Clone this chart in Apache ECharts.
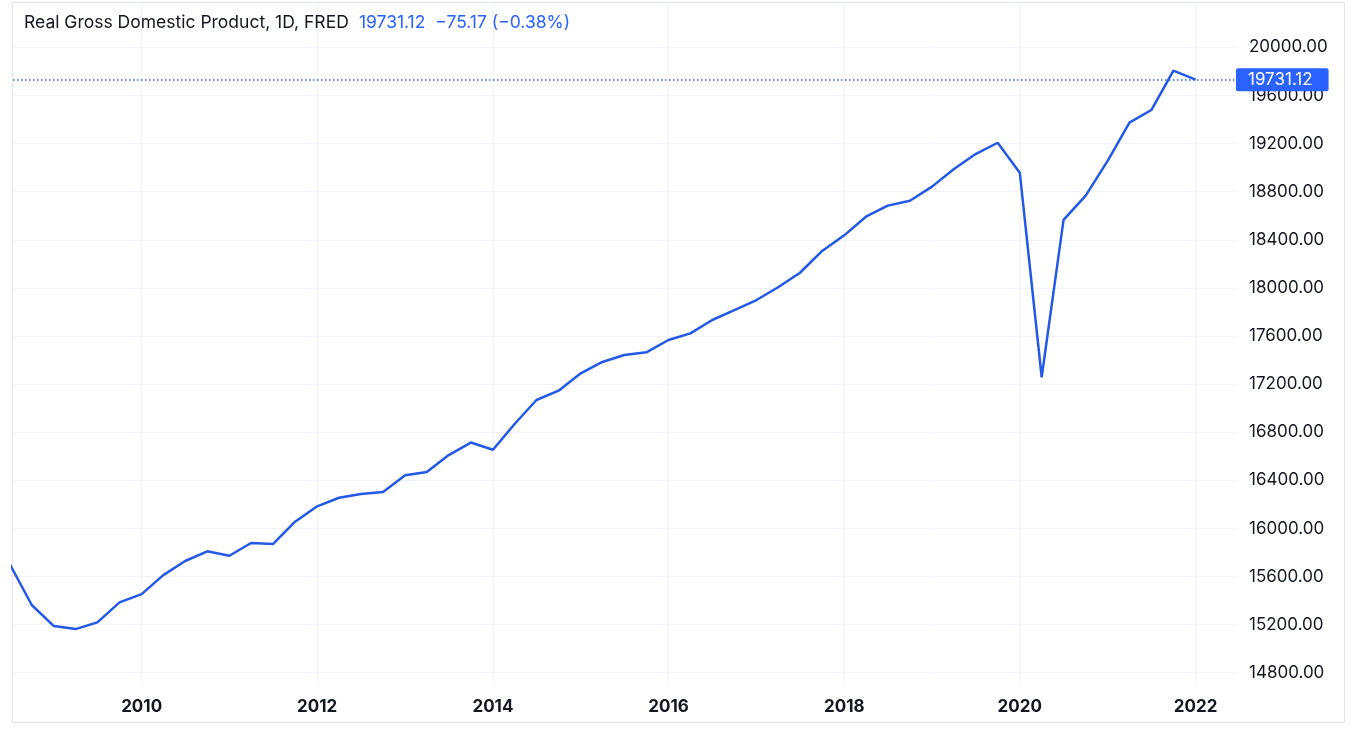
<!DOCTYPE html>
<html>
<head>
<meta charset="utf-8">
<script src="https://cdn.jsdelivr.net/npm/echarts@6/dist/echarts.min.js"></script>
<style>
  html, body { margin: 0; padding: 0; background: #ffffff; }
  #chart { width: 1358px; height: 738px; }
</style>
</head>
<body>
<div id="chart"></div>
<script>
// ---- data (quarterly) ----
const seriesName = 'Real Gross Domestic Product, 1D, FRED';
const quarterDates = [
  '2008-07-01','2008-10-01',
  '2009-01-01','2009-04-01','2009-07-01','2009-10-01',
  '2010-01-01','2010-04-01','2010-07-01','2010-10-01',
  '2011-01-01','2011-04-01','2011-07-01','2011-10-01',
  '2012-01-01','2012-04-01','2012-07-01','2012-10-01',
  '2013-01-01','2013-04-01','2013-07-01','2013-10-01',
  '2014-01-01','2014-04-01','2014-07-01','2014-10-01',
  '2015-01-01','2015-04-01','2015-07-01','2015-10-01',
  '2016-01-01','2016-04-01','2016-07-01','2016-10-01',
  '2017-01-01','2017-04-01','2017-07-01','2017-10-01',
  '2018-01-01','2018-04-01','2018-07-01','2018-10-01',
  '2019-01-01','2019-04-01','2019-07-01','2019-10-01',
  '2020-01-01','2020-04-01','2020-07-01','2020-10-01',
  '2021-01-01','2021-04-01','2021-07-01','2021-10-01',
  '2022-01-01'
];
const gdpValues = [
  15705, 15363,
  15188, 15163, 15219, 15385,
  15454, 15612, 15729, 15810,
  15773, 15879, 15870, 16056,
  16184, 16255, 16286, 16303,
  16442, 16469, 16610, 16714,
  16654, 16868, 17068, 17145,
  17290, 17384, 17442, 17464,
  17567, 17622, 17733, 17816,
  17899, 18005, 18126, 18307,
  18437, 18592, 18684, 18725,
  18842, 18986, 19113, 19207,
  18958, 17257, 18565, 18767,
  19058, 19374, 19479, 19806.29,
  19731.12
];
const yTickValues = [14800, 15200, 15600, 16000, 16400, 16800, 17200, 17600,
                     18000, 18400, 18800, 19200, 19600, 20000];
const xTickYears = [2010, 2012, 2014, 2016, 2018, 2020, 2022];

// ---- derived ----
const toStamp = s => { const p = s.split('-').map(Number); return new Date(p[0], p[1] - 1, p[2]).getTime(); };
const seriesData = quarterDates.map((d, i) => [toStamp(d), gdpValues[i]]);
const lastVal = gdpValues[gdpValues.length - 1];
const prevVal = gdpValues[gdpValues.length - 2];
const chg = lastVal - prevVal;
const chgPct = chg / prevVal * 100;
const minus = '\u2212';
const fmtSigned = v => (v < 0 ? minus : '+') + Math.abs(v).toFixed(2);
const headerValues = lastVal.toFixed(2) + '  ' + fmtSigned(chg) + ' (' + fmtSigned(chgPct) + '%)';

const xTickStamps = xTickYears.map(y => new Date(y, 0, 1).getTime());
const xMin = new Date(2008, 6, 15).getTime();
const xMax = new Date(2022, 5, 14).getTime();

const FONT = 'Inter, "Noto Sans", sans-serif';
const BLUE = '#2962FF';
const LINE_BLUE = '#2459e6';
const TEXT = '#131722';
const GRID = '#f0f3fa';
const FS = 17;

const chart = echarts.init(document.getElementById('chart'), null, { renderer: 'canvas' });
chart.setOption({
  backgroundColor: '#ffffff',
  animation: false,
  textStyle: { fontFamily: FONT },
  title: {
    left: 24,
    top: 13,
    padding: 0,
    text: '{a|' + seriesName + '}  {b|' + headerValues + '}',
    textStyle: {
      fontWeight: 'normal',
      rich: {
        a: { fontSize: 17.5, fontWeight: 'normal', color: TEXT, fontFamily: FONT, lineHeight: 20 },
        b: { fontSize: 17.5, fontWeight: 'normal', color: BLUE, fontFamily: FONT, lineHeight: 20 }
      }
    }
  },
  graphic: [{
    type: 'rect',
    silent: true,
    shape: { x: 12.5, y: 2.5, width: 1332, height: 720 },
    style: { fill: 'none', stroke: '#e0e3eb', lineWidth: 1 },
    z: -1
  }],
  grid: {
    left: 13, right: 123, top: 3, bottom: 53,
    containLabel: false,
    outerBoundsMode: 'none'
  },
  xAxis: {
    type: 'value',
    min: xMin,
    max: xMax,
    axisLine: { show: false },
    axisTick: { show: false, customValues: xTickStamps },
    splitLine: { show: true, lineStyle: { color: GRID, width: 1 } },
    axisLabel: {
      customValues: xTickStamps,
      formatter: v => String(new Date(v).getFullYear()),
      color: TEXT,
      fontWeight: 'bold',
      fontSize: FS,
      fontFamily: FONT,
      margin: 13,
      hideOverlap: false
    }
  },
  yAxis: {
    type: 'value',
    position: 'right',
    min: 14698,
    max: 20369,
    axisLine: { show: false },
    axisTick: { show: false, customValues: yTickValues },
    splitLine: { show: true, lineStyle: { color: GRID, width: 1 } },
    axisLabel: {
      customValues: yTickValues,
      formatter: v => Number(v).toFixed(2),
      color: TEXT,
      fontSize: FS,
      fontFamily: FONT,
      align: 'left',
      margin: 14
    }
  },
  series: [{
    type: 'line',
    name: seriesName,
    data: seriesData,
    showSymbol: false,
    symbol: 'none',
    clip: true,
    lineStyle: { color: LINE_BLUE, width: 2.5 },
    itemStyle: { color: LINE_BLUE },
    emphasis: { disabled: true },
    markLine: {
      silent: true,
      symbol: ['none', 'none'],
      animation: false,
      lineStyle: { color: BLUE, width: 1.5, type: [1.5, 2.5] },
      emphasis: { disabled: true },
      label: {
        show: true,
        position: 'end',
        distance: 1,
        formatter: () => lastVal.toFixed(2),
        color: '#ffffff',
        backgroundColor: BLUE,
        borderRadius: 2,
        fontSize: FS,
        fontFamily: FONT,
        lineHeight: 17,
        padding: [3, 16, 3, 12]
      },
      data: [{ yAxis: lastVal }]
    }
  }]
});
</script>
</body>
</html>
